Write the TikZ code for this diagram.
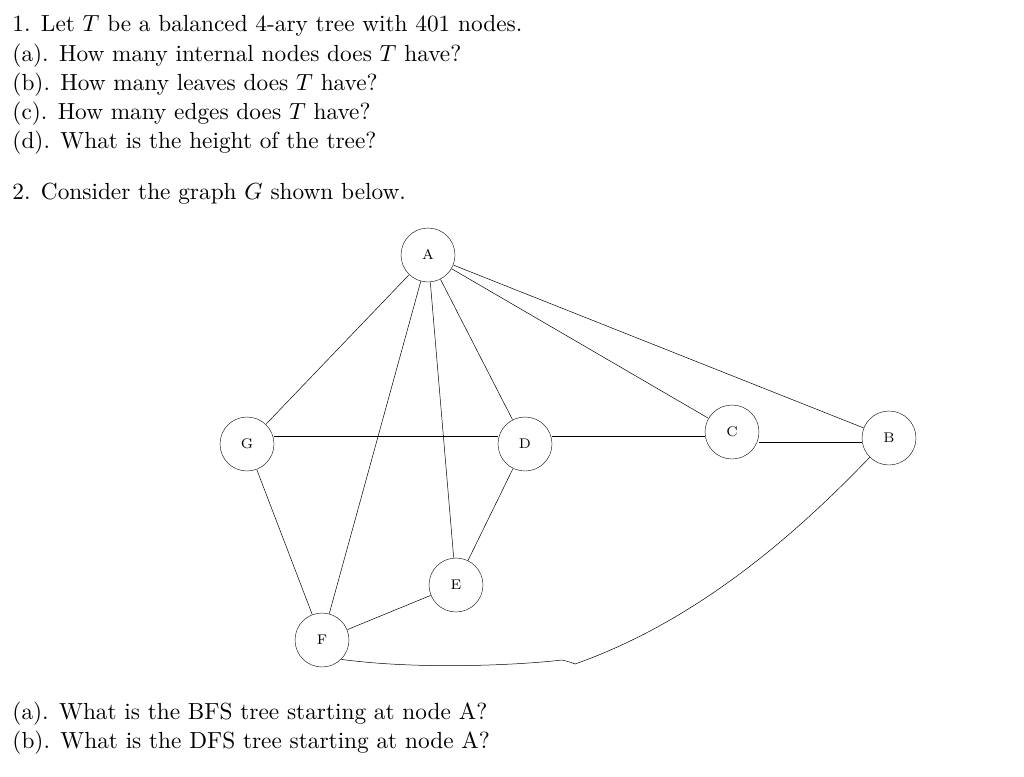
\documentclass[tikz,border=0pt]{standalone}
\begin{document}
\begin{tikzpicture}[x=1pt,y=-1pt,
  txt/.style={anchor=base west,inner sep=0pt,font=\fontsize{10}{12}\selectfont,scale=2.33,transform shape},
  vtx/.style={circle,draw,inner sep=0pt,font=\fontsize{7}{8}\selectfont,scale=2,transform shape,minimum size=27pt},
  edge/.style={draw,line width=0.5pt}]
\useasboundingbox (0,0) rectangle (1024,776);
\node[txt] (t1) at (12,32) {1. Let $T$ be a balanced 4-ary tree with 401 nodes.};
\node[txt] (t2) at (12,61) {(a). How many internal nodes does $T$ have?};
\node[txt] (t3) at (12,90) {(b). How many leaves does $T$ have?};
\node[txt] (t4) at (12,119) {(c). How many edges does $T$ have?};
\node[txt] (t5) at (12,148) {(d). What is the height of the tree?};
\node[txt] (t6) at (12,199) {2. Consider the graph $G$ shown below.};
\node[txt] (t7) at (12,719) {(a). What is the BFS tree starting at node A?};
\node[txt] (t8) at (12,748) {(b). What is the DFS tree starting at node A?};
\node[vtx] (A) at (428,255) {A};
\node[vtx] (G) at (247,444) {G};
\node[vtx] (D) at (525,444) {D};
\node[vtx] (C) at (732,432) {C};
\node[vtx] (B) at (889,438) {B};
\node[vtx] (E) at (456,585) {E};
\node[vtx] (F) at (322,640) {F};
\draw[edge] (A)--(G);
\draw[edge] (A)--(F);
\draw[edge] (A)--(E);
\draw[edge] (A)--(D);
\draw[edge] (A)--(C);
\draw[edge] (A)--(B);
\draw[edge] (G.east |- 0,436) -- (D.west |- 0,436);
\draw[edge] (D.east |- 0,436) -- (C.west |- 0,436);
\draw[edge] (C.east |- 0,442) -- (B.west |- 0,442);
\draw[edge] (G)--(F);
\draw[edge] (D)--(E);
\draw[edge] (E)--(F);
\draw[edge] (F.south east) .. controls (420,670) and (520,665) .. (562,660)
  .. controls (570,662) .. (575,664) .. controls (700,620) and (800,530) .. (B.south west);
\end{tikzpicture}
\end{document}
